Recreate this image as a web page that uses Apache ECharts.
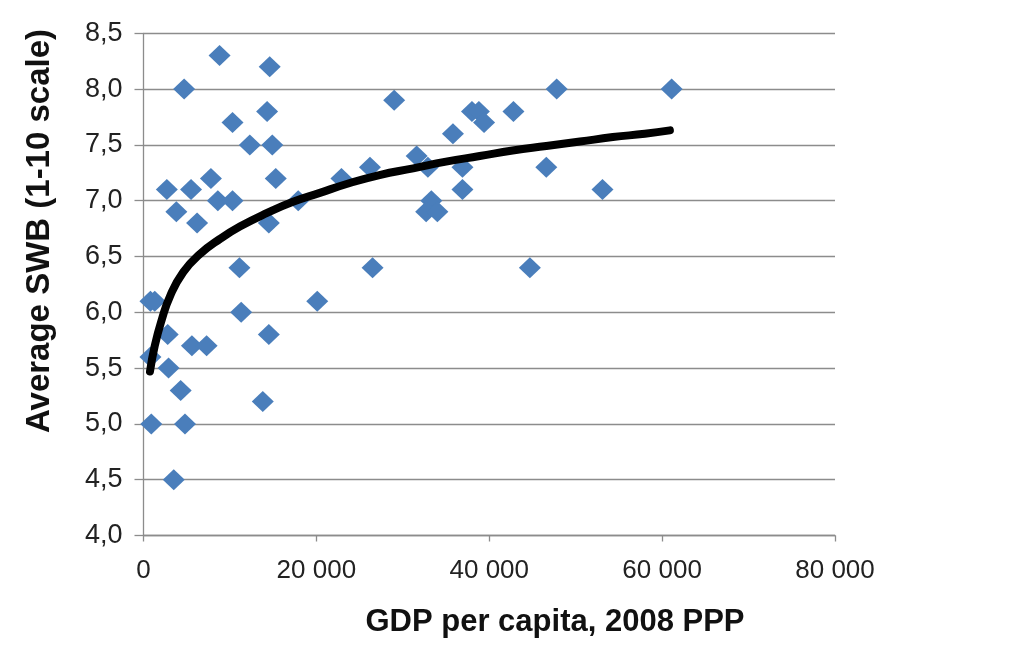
<!DOCTYPE html>
<html>
<head>
<meta charset="utf-8">
<script src="https://cdn.jsdelivr.net/npm/echarts@6/dist/echarts.min.js"></script>
<style>
html,body{margin:0;padding:0;background:#fff;}
#chart{width:1024px;height:655px;}
</style>
</head>
<body>
<div id="chart"></div>
<script>
// GDP per capita (2008 PPP) and average SWB for each country point
const gdp = [8800,14600,4700,14300,10300,12300,14900,15300,7800,2700,5500,8600,10300,17900,3800,6200,14500,11100,22900,
  800,1300,20100,11300,2800,14500,5600,7300,800,2900,4300,13800,900,4800,3500,
  29000,47800,61100,38000,38800,39400,42800,35800,31600,32900,36900,26200,46600,36900,53100,33300,32700,34000,26500,44700];
const swb = [8.3,8.2,8.0,7.8,7.7,7.5,7.5,7.2,7.2,7.1,7.1,7.0,7.0,7.0,6.9,6.8,6.8,6.4,7.2,
  6.1,6.1,6.1,6.0,5.8,5.8,5.7,5.7,5.6,5.5,5.3,5.2,5.0,5.0,4.5,
  7.9,8.0,8.0,7.8,7.8,7.7,7.8,7.6,7.4,7.3,7.3,7.3,7.3,7.1,7.1,7.0,6.9,6.9,6.4,6.4];
// trend curve
const trendX = [750,1300,2100,3100,4600,6500,8900,11200,14300,17300,20400,23500,27300,31200,35000,38900,42700,46600,50500,54300,58000,60900];
const trendY = [5.47,5.70,5.93,6.15,6.36,6.52,6.66,6.77,6.89,6.99,7.07,7.15,7.23,7.29,7.35,7.40,7.45,7.49,7.53,7.57,7.60,7.63];
// axis ticks
const xTicks = [0,20000,40000,60000,80000];
const yTicks = [4.0,4.5,5.0,5.5,6.0,6.5,7.0,7.5,8.0,8.5];
const xTitle = 'GDP per capita, 2008 PPP';
const yTitle = 'Average SWB (1-10 scale)';

const FONT = "'Liberation Sans', Arial, sans-serif";
const chart = echarts.init(document.getElementById('chart'), null, {renderer:'canvas'});
const pts = gdp.map((g,i)=>[g, swb[i]]);
const trend = trendX.map((x,i)=>[x, trendY[i]]);
const fmtX = v => String(Math.round(v)).replace(/\B(?=(\d{3})+(?!\d))/g, ' ');
const fmtY = v => v.toFixed(1).replace('.', ',');

chart.setOption({
  animation:false,
  backgroundColor:'#ffffff',
  grid:{left:143.5, right:189, top:33.3, bottom:119.5, containLabel:false},
  xAxis:{
    type:'value', min:xTicks[0], max:xTicks[xTicks.length-1], interval:xTicks[1]-xTicks[0],
    axisLine:{show:true, onZero:false, lineStyle:{color:'#8c8c8c', width:1.3}},
    axisTick:{show:true, length:6, lineStyle:{color:'#8c8c8c', width:1.3}},
    splitLine:{show:false},
    axisLabel:{formatter:fmtX, fontFamily:FONT, fontSize:26, color:'#222', margin:22}
  },
  yAxis:{
    type:'value', min:yTicks[0], max:yTicks[yTicks.length-1], interval:yTicks[1]-yTicks[0],
    axisLine:{show:true, lineStyle:{color:'#8c8c8c', width:1.3}},
    axisTick:{show:true, length:9, lineStyle:{color:'#8c8c8c', width:1.3}},
    splitLine:{show:true, lineStyle:{color:'#8c8c8c', width:1.3}},
    axisLabel:{formatter:fmtY, fontFamily:FONT, fontSize:27, color:'#222', margin:21}
  },
  graphic:[
    {type:'text', x:40, y:231, rotation:Math.PI/2,
     style:{text:yTitle, font:"bold 33px 'Liberation Sans', Arial, sans-serif", fill:'#111', align:'center', verticalAlign:'middle'}},
    {type:'text', x:555, y:622,
     style:{text:xTitle, font:"bold 31px 'Liberation Sans', Arial, sans-serif", fill:'#111', align:'center', verticalAlign:'middle'}}
  ],
  series:[
    {type:'scatter', data:pts, symbol:'diamond', symbolSize:[22,21],
     itemStyle:{color:'#4A7EBB', opacity:1}, z:2},
    {type:'line', data:trend, smooth:true, showSymbol:false, symbol:'none',
     lineStyle:{color:'#000', width:8, cap:'round', join:'round'}, z:3}
  ]
});
</script>
</body>
</html>
